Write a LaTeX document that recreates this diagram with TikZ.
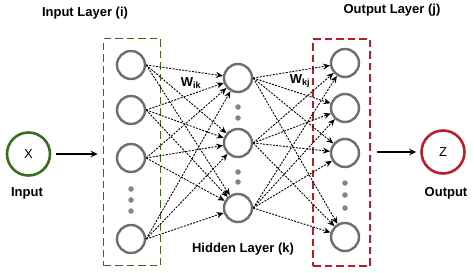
\documentclass[tikz,border=0pt]{standalone}
\usepackage{fontspec}
\setmainfont{Liberation Sans}
\usetikzlibrary{arrows.meta}
\definecolor{boxgreen}{HTML}{3A6E1E}
\definecolor{boxred}{HTML}{B81E28}
\definecolor{cellgray}{HTML}{6E6E6E}
\begin{document}
\begin{tikzpicture}[x=1pt, y=-1pt,
    neuron/.style={circle, draw=cellgray, line width=2.4pt, minimum size=28pt, inner sep=0pt},
    ioball/.style={circle, line width=2.6pt, minimum size=43pt, inner sep=0pt, font=\fontsize{13}{15}\selectfont},
    layerbox/.style={line width=1.6pt, dash pattern=on 7.5pt off 4pt, minimum width=57pt, minimum height=227pt, inner sep=0pt},
    link/.style={line width=0.9pt, dash pattern=on 2pt off 1.3pt, -{Stealth[length=7pt, width=6pt]}},
    feed/.style={line width=1.5pt, -{Stealth[length=7pt, width=6.5pt]}},
    lbl/.style={font=\fontsize{13}{15}\selectfont\bfseries},
    dot/.style={circle, fill=cellgray!85, inner sep=0pt, minimum size=5.5pt}]
  \useasboundingbox (0,0) rectangle (474,273);
  % layer frames
  \node[layerbox, draw=boxgreen] (inbox) at (132,152) {};
  \node[layerbox, draw=boxred] (outbox) at (341.5,152.5) {};
  % input layer
  \foreach \n/\y in {1/65, 2/110, 3/158, 4/239}
    \node[neuron] (i\n) at (131,\y) {};
  \foreach \y in {189, 200, 211}
    \node[dot] at (131,\y) {};
  % hidden layer
  \foreach \n/\y in {1/78, 2/143, 3/208}
    \node[neuron] (h\n) at (238,\y) {};
  \foreach \y in {107, 118, 172, 182}
    \node[dot] at (238,\y) {};
  % output layer
  \foreach \n/\y in {1/63, 2/108, 3/153, 4/237}
    \node[neuron] (o\n) at (345,\y) {};
  \foreach \y in {183, 195, 208}
    \node[dot] at (345,\y) {};
  % weights
  \foreach \a in {1,...,4}
    \foreach \b in {1,2,3}
      \draw[link] (i\a.east) -- (h\b);
  \foreach \b in {1,2,3}
    \foreach \c in {1,...,4}
      \draw[link] (h\b.east) -- (o\c);
  % input and output
  \node[ioball, draw=boxgreen] (x) at (28.5,154) {X};
  \node[ioball, draw=boxred] (z) at (443,152) {Z};
  \draw[feed, shorten <=5pt, shorten >=5pt] (x.east) -- (x.east -| inbox.west);
  \draw[feed, shorten <=6pt, shorten >=4pt] (outbox.east |- z.west) -- (z.west);
  % labels
  \node[lbl] (inlbl) at (85,13) {Input Layer (i)};
  \node[lbl] (outlbl) at (392,10) {Output Layer (j)};
  \node[lbl] (hidlbl) at (243,249) {Hidden Layer (k)};
  \node[lbl] (xlbl) at (27,193) {Input};
  \node[lbl] (zlbl) at (446,193) {Output};
  \node[lbl] (wik) at (191,83) {W\textsubscript{ik}};
  \node[lbl] (wkj) at (300,81) {W\textsubscript{kj}};
\end{tikzpicture}
\end{document}
